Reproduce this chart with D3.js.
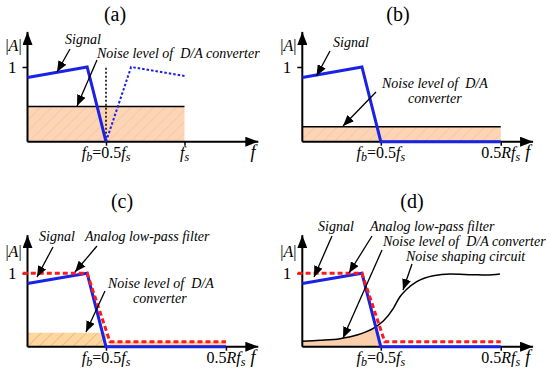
<!DOCTYPE html>
<html>
<head>
<meta charset="utf-8">
<script src="https://cdn.jsdelivr.net/npm/d3@7"></script>
<style>
  body { margin: 0; background: #fff; }
</style>
</head>
<body>
<div id="chart"></div>
<script>
// frequency in units of fs, magnitude in |A|
var panelNames = ["(a)", "(b)", "(c)", "(d)"];

var signalF = [0, 0.38, 0.5];
var signalA = [0.86, 1, 0];
var stopbandF = [0.5, 1.264];
var stopbandA = [0, 0];

var imageF = [0.5, 0.66, 1.0];          // mirrored spectrum in (a)
var imageA = [0, 1, 0.88];

var noiseLevel = [0.47, 0.2, 0.19];     // (a), (b), (c)
var noiseEndF = [1.0, 1.264, 0.5];

var filterF = [-0.03, 0.38, 0.525, 1.264];
var filterA = [1, 1, 0.068, 0.068];

var shapingF = [0, 0.113, 0.24, 0.347, 0.452, 0.516, 0.58, 0.622, 0.665, 0.729, 0.834, 0.941, 1.089, 1.175, 1.259];
var shapingA = [0.075, 0.087, 0.109, 0.159, 0.251, 0.35, 0.523, 0.681, 0.782, 0.886, 0.967, 0.99, 0.981, 0.977, 0.99];

var ticksA = [0.5, 1.0];
var ticksB = [0.5, 1.264];

var width = 550, height = 379;
var blue = "#1a22e6", red = "#ff1a1a";
var serif = "Liberation Serif";

var svg = d3.select("#chart").append("svg")
    .attr("width", width)
    .attr("height", height)
    .attr("font-family", serif);

var defs = svg.append("defs");

function hatch(id, bg, fg) {
  var p = defs.append("pattern")
      .attr("id", id)
      .attr("patternUnits", "userSpaceOnUse")
      .attr("width", 8).attr("height", 8)
      .attr("patternTransform", "rotate(45)");
  p.append("rect").attr("width", 8).attr("height", 8).attr("fill", bg);
  p.append("line").attr("x1", 0).attr("y1", 0).attr("x2", 0).attr("y2", 8)
      .attr("stroke", fg).attr("stroke-width", 1.2);
}
hatch("hatchPale", "#fcd5b6", "#f3bf9c");
hatch("hatchOrange", "#fcd7a2", "#f3a84c");

function marker(id, w, l) {
  defs.append("marker")
      .attr("id", id)
      .attr("markerUnits", "userSpaceOnUse")
      .attr("viewBox", "0 0 " + l + " " + w)
      .attr("refX", l).attr("refY", w / 2)
      .attr("markerWidth", l).attr("markerHeight", w)
      .attr("orient", "auto")
    .append("path")
      .attr("d", "M0,0L" + l + "," + w / 2 + "L0," + w + "Z")
      .attr("fill", "#000");
}
marker("axisHead", 10, 13);
marker("noteHead", 9, 11);

var origins = [[27.5, 141.7], [302.3, 141.7], [27.5, 346.7], [302.3, 346.7]];
var unitY = [74.7, 74.7, 73.4, 73.4];
var titleX = [115, 398, 122, 412];

function fLabel(sel, parts) {
  parts.forEach(function(p) {
    var t = sel.append("tspan").text(p[0]);
    if (p[1] === "i") t.attr("font-style", "italic");
    if (p[1] === "sub") t.attr("font-style", "italic").attr("font-size", 12).attr("dy", 3);
    if (p[1] === "up") t.attr("dy", -3);
  });
}

panelNames.forEach(function(name, i) {
  var ox = origins[i][0], oy = origins[i][1];
  var x = d3.scaleLinear().domain([0, 1]).range([ox, ox + 157]);
  var y = d3.scaleLinear().domain([0, 1]).range([oy, oy - unitY[i]]);
  var g = svg.append("g");
  var line = d3.line().x(function(d) { return x(d[0]); }).y(function(d) { return y(d[1]); });
  var area = d3.area().x(function(d) { return x(d[0]); }).y0(y(0)).y1(function(d) { return y(d[1]); });

  // noise floor
  if (i < 3) {
    g.append("rect")
        .attr("x", x(0)).attr("y", y(noiseLevel[i]))
        .attr("width", x(noiseEndF[i]) - x(0))
        .attr("height", y(0) - y(noiseLevel[i]))
        .attr("fill", i === 2 ? "url(#hatchOrange)" : "url(#hatchPale)");
    if (i < 2) {
      g.append("line")
          .attr("x1", x(0)).attr("x2", x(noiseEndF[i]))
          .attr("y1", y(noiseLevel[i])).attr("y2", y(noiseLevel[i]))
          .attr("stroke", "#000").attr("stroke-width", 1.5);
    }
  }
  if (i === 2) {
    g.append("path")
        .datum([[filterF[2], filterA[2]], [filterF[3], filterA[3]]])
        .attr("d", area)
        .attr("fill", "#fcd7a2");
  }
  if (i === 3) {
    var under = d3.zip(shapingF, shapingA).filter(function(d) { return d[0] < 0.48; });
    under.push([0.48, 0.3], [0.5, 0]);
    g.append("path").datum(under).attr("d", area).attr("fill", "#fbcfab");
  }

  // axes
  g.append("line")
      .attr("x1", x(0)).attr("y1", y(0)).attr("x2", x(1.47)).attr("y2", y(0))
      .attr("stroke", "#000").attr("stroke-width", 2)
      .attr("marker-end", "url(#axisHead)");
  g.append("line")
      .attr("x1", x(0)).attr("y1", y(0)).attr("x2", x(0)).attr("y2", y(i < 2 ? 1.47 : 1.52))
      .attr("stroke", "#000").attr("stroke-width", 2)
      .attr("marker-end", "url(#axisHead)");

  var ticks = i === 0 ? ticksA : ticksB;
  var xa = g.append("g")
      .attr("transform", "translate(0," + y(0) + ")")
      .call(d3.axisBottom(x).tickValues(ticks).tickSize(4).tickFormat(""));
  xa.select(".domain").remove();
  xa.selectAll(".tick line").attr("stroke", "#000").attr("stroke-width", 1.5);

  var ya = g.append("g")
      .attr("transform", "translate(" + x(0) + ",0)")
      .call(d3.axisLeft(y).tickValues([1]).tickSize(5).tickPadding(6).tickFormat(d3.format("d")));
  ya.select(".domain").remove();
  ya.attr("font-family", serif);
  ya.selectAll(".tick line").attr("stroke", "#000").attr("stroke-width", 1.5);
  ya.selectAll(".tick text").attr("font-size", 17).attr("fill", "#000");

  // tick labels
  var lab1 = g.append("text").attr("x", x(ticks[0])).attr("y", y(0) + 16)
      .attr("text-anchor", "middle").attr("font-size", 16);
  fLabel(lab1, [["f", "i"], ["b", "sub"], ["=0.5", "up"], ["f", "i"], ["s", "sub"]]);
  var lab2 = g.append("text").attr("x", x(ticks[1])).attr("y", y(0) + 16)
      .attr("text-anchor", "middle").attr("font-size", 16);
  if (i === 0) fLabel(lab2, [["f", "i"], ["s", "sub"]]);
  else fLabel(lab2, [["0.5", ""], ["R", "i"], ["f", "i"], ["s", "sub"]]);

  g.append("text").attr("x", x(1.42)).attr("y", y(0) + 16)
      .attr("font-size", 18).attr("font-style", "italic").text("f");
  var al = g.append("text").attr("x", x(0) - 14).attr("y", y(1.22))
      .attr("text-anchor", "middle").attr("font-size", 16);
  al.append("tspan").text("|");
  al.append("tspan").attr("font-style", "italic").text("A");
  al.append("tspan").text("|");

  g.append("text").attr("x", titleX[i]).attr("y", i < 2 ? 21 : 208)
      .attr("text-anchor", "middle").attr("font-size", 20).text(name);

  // spectra
  if (i === 0) {
    g.append("line")
        .attr("x1", x(0.5)).attr("x2", x(0.5)).attr("y1", y(0)).attr("y2", y(1))
        .attr("stroke", "#000").attr("stroke-width", 1.5).attr("stroke-dasharray", "2,2");
    g.append("path").datum(d3.zip(imageF, imageA)).attr("d", line)
        .attr("fill", "none").attr("stroke", blue).attr("stroke-width", 2)
        .attr("stroke-dasharray", "2.5,2");
  }
  if (i === 3) {
    g.append("path").datum(d3.zip(shapingF, shapingA))
        .attr("d", line.curve(d3.curveMonotoneX))
        .attr("fill", "none").attr("stroke", "#000").attr("stroke-width", 1.5);
    line.curve(d3.curveLinear);
  }
  var sig = d3.zip(signalF, signalA);
  if (i > 0) sig = sig.concat(d3.zip(stopbandF, stopbandA).slice(1));
  g.append("path").datum(sig).attr("d", line)
      .attr("fill", "none").attr("stroke", blue).attr("stroke-width", 3)
      .attr("stroke-linejoin", "miter");
  if (i > 1) {
    g.append("path").datum(d3.zip(filterF, filterA)).attr("d", line)
        .attr("fill", "none").attr("stroke", red).attr("stroke-width", 3)
        .attr("stroke-dasharray", "5,3");
  }
});

// annotations
var notes = [
  {t: ["Signal"], x: 65, y: 44, a: [70, 49, 57, 72]},
  {t: ["Noise level of  D/A converter"], x: 97, y: 58, a: [97, 60, 77, 106]},
  {t: ["Signal"], x: 333, y: 47, a: [330, 51, 316.5, 76]},
  {t: ["Noise level of  D/A", "converter"], x: 382, y: 88, x2: 408, a: [376, 92, 343, 126]},
  {t: ["Signal"], x: 39, y: 241, a: [53, 247, 37, 277]},
  {t: ["Analog low-pass filter"], x: 85, y: 241, a: [97, 246, 75, 272]},
  {t: ["Noise level of  D/A", "converter"], x: 108, y: 288, x2: 133, a: [105, 291, 86, 332]},
  {t: ["Signal"], x: 318, y: 231, a: [332, 236, 314, 277]},
  {t: ["Analog low-pass filter"], x: 370, y: 231, a: [372, 236, 349, 273]},
  {t: ["Noise level of  D/A converter"], x: 383, y: 246, a: [382, 250, 343, 338]},
  {t: ["Noise shaping circuit"], x: 406, y: 261, a: [412, 264, 403, 290]}
];

notes.forEach(function(n) {
  n.t.forEach(function(s, k) {
    svg.append("text")
        .attr("font-family", serif)
        .attr("font-style", "italic")
        .attr("font-size", 14)
        .style("white-space", "pre")
        .attr("x", k === 0 ? n.x : n.x2).attr("y", n.y + k * 15).text(s);
  });
  svg.append("line")
      .attr("x1", n.a[0]).attr("y1", n.a[1]).attr("x2", n.a[2]).attr("y2", n.a[3])
      .attr("stroke", "#000").attr("stroke-width", 1.3)
      .attr("marker-end", "url(#noteHead)");
});
</script>
</body>
</html>
